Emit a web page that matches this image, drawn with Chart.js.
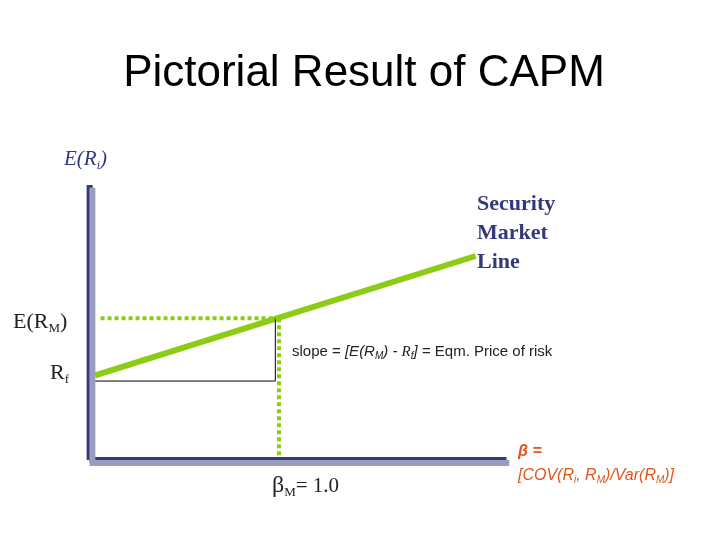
<!DOCTYPE html><html><head><meta charset="utf-8">
<script src="https://cdn.jsdelivr.net/npm/chart.js@4/dist/chart.umd.min.js"></script>
<style>body{margin:0;background:#fff}#w{width:728px;height:546px}</style></head><body><div id="w"><canvas id="c"></canvas></div>
<script>
const riskFree = 4;
const marketReturn = 10;
const marketBeta = 1;
const smlBetas = [0, 2.09];
const axisBetaMin = -0.03, axisBetaMax = 2.26;
const axisReturnMin = -4.9, axisReturnMax = 24;
const sml = smlBetas.map(b => ({x: b, y: riskFree + (marketReturn - riskFree) * b}));
const navy = '#34397a', green = '#8ccc14';
const textPlugin = {id:'t', afterDraw(ch){
  const c = ch.ctx;
  c.save(); c.textBaseline = 'alphabetic';
  function runs(parts, x, y){ for(const [t,f,dy,col] of parts){ c.font=f; c.fillStyle=col; c.fillText(t,x,y+(dy||0)); x+=c.measureText(t).width; } }
  c.fillStyle='#000'; c.textAlign='center'; c.font='44px "Liberation Sans"';
  c.fillText('Pictorial Result of CAPM', 364, 86); c.textAlign='left';
  const n='#34397a';
  runs([['E(R','italic 21px "Liberation Serif"',0,n],['i','italic 12px "Liberation Serif"',4,n],[')','italic 21px "Liberation Serif"',0,n]],64,165);
  c.font='bold 22px "Liberation Serif"'; c.fillStyle=n;
  ['Security','Market','Line'].forEach((s,i)=>c.fillText(s,477,210+i*29));
  const k='#222';
  runs([['E(R','22px "Liberation Serif"',0,k],['M','13px "Liberation Serif"',4,k],[')','22px "Liberation Serif"',0,k]],13,328);
  runs([['R','22px "Liberation Serif"',0,k],['f','13px "Liberation Serif"',4,k]],50,379);
  runs([['β','24px "Liberation Serif"',0,k],['M','13px "Liberation Serif"',4,k],['= 1.0','21px "Liberation Serif"',0,k]],272,492);
  const a='15px "Liberation Sans"', ai='italic 15px "Liberation Sans"', sm='italic 10px "Liberation Sans"', sr='italic 15px "Liberation Serif"';
  runs([['slope = ',a,0,k],['[E(R',ai,0,k],['M',sm,3,k],[') - ',ai,0,k],['R',sr,0,k],['f',sm,3,k],[']',ai,0,k],[' = Eqm. Price of risk',a,0,k]],292,356);
  const o='#e2551b';
  const oi='italic 16px "Liberation Sans"', os='italic 10px "Liberation Sans"';
  runs([['β =','bold italic 16px "Liberation Sans"',0,o]],518,456);
  runs([['[COV(R',oi,0,o],['i',os,3,o],[', R',oi,0,o],['M',os,3,o],[')/Var(R',oi,0,o],['M',os,3,o],[')]',oi,0,o]],518,480);
  c.restore();
}};
const line=(data,color,w,dash)=>({type:'line',data,borderColor:color,borderWidth:w,borderDash:dash||[],pointRadius:0,fill:false,borderCapStyle:'butt',clip:false});
new Chart(document.getElementById('c'),{
  type:'scatter',
  data:{datasets:[
    line([{x:axisBetaMin+0.015,y:axisReturnMin-0.3},{x:axisBetaMin+0.015,y:axisReturnMax-0.3}],'#9a9cc0',6),
    line([{x:axisBetaMin,y:axisReturnMin-0.3},{x:axisBetaMax+0.015,y:axisReturnMin-0.3}],'#9a9cc0',6),
    line([{x:axisBetaMin,y:axisReturnMin},{x:axisBetaMin,y:axisReturnMax}],navy,6),
    line([{x:axisBetaMin,y:axisReturnMin},{x:axisBetaMax,y:axisReturnMin}],navy,6),
    line([{x:0.03,y:marketReturn},{x:marketBeta,y:marketReturn}],green,4,[4,3]),
    line([{x:marketBeta+0.01,y:marketReturn},{x:marketBeta+0.01,y:axisReturnMin+0.5}],green,4,[4,3]),
    line([{x:axisBetaMin,y:riskFree-0.6},{x:marketBeta-0.01,y:riskFree-0.6},{x:marketBeta-0.01,y:marketReturn}],'#000',1),
    line(sml,green,6)
  ]},
  plugins:[textPlugin],
  options:{responsive:true,maintainAspectRatio:false,animation:false,
    layout:{padding:{left:86,right:196,top:185,bottom:85}},
    plugins:{legend:{display:false},tooltip:{enabled:false}},
    scales:{x:{type:'linear',min:-0.05,max:2.4,display:false},y:{min:-5,max:24,display:false}}}
});
</script></body></html>
